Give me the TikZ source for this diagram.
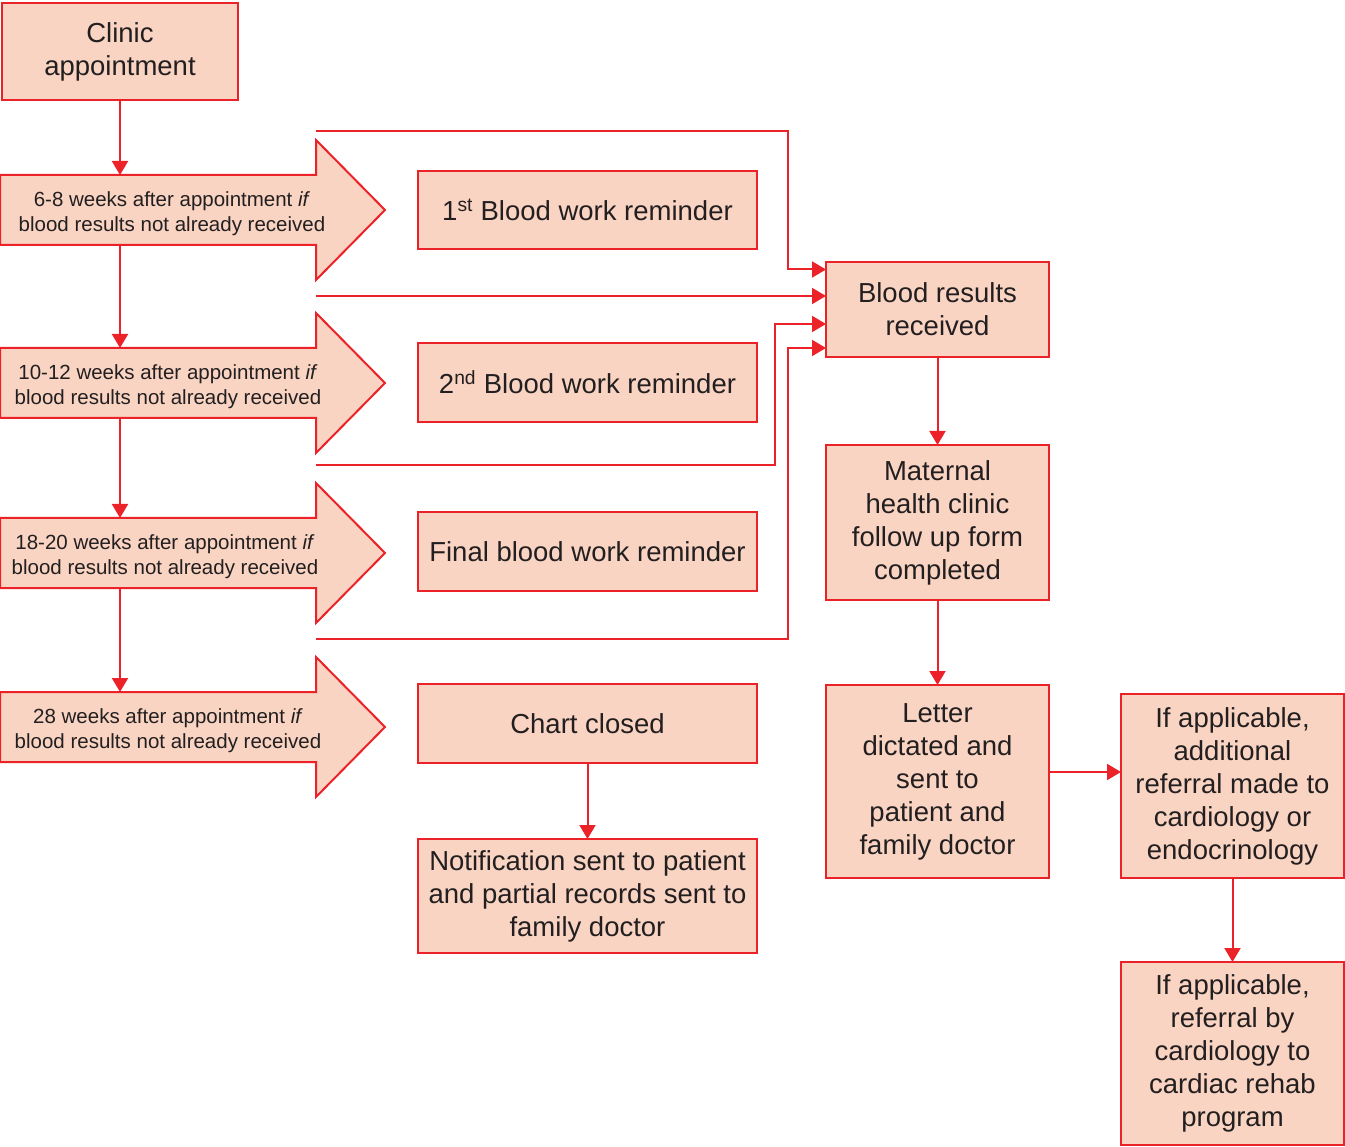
\documentclass[tikz,border=0pt]{standalone}
\usepackage{fontspec}
\setmainfont{Liberation Sans}
\usetikzlibrary{arrows.meta}
\definecolor{peach}{HTML}{F9D4C2}
\definecolor{redline}{HTML}{EC2229}
\definecolor{ink}{HTML}{231F20}
\tikzset{
  box/.style={draw=redline, fill=peach, line width=2pt, inner sep=0pt, outer sep=0pt,
    align=center, text=ink, font=\fontsize{27.5}{33}\selectfont},
  body/.style={minimum width=316pt, minimum height=70pt, inner sep=0pt, outer sep=0pt},
  arrowline/.style={draw=redline, fill=peach, line width=2pt, line join=miter},
  smalltext/.style={align=center, text=ink, inner sep=0pt, font=\fontsize{20.5}{25}\selectfont},
  conn/.style={draw=redline, line width=2pt, -{Triangle[width=16pt,length=14pt]}},
  plain/.style={draw=redline, line width=2pt}
}
\newcommand\bigarrow[2]{%
  \node[body] (#1) at (158,#2) {};
  \draw[arrowline] (#1.north west) -- (#1.north east) -- ++(0,-35) -- ++(69,70)
    -- ++(-69,70) -- ++(0,-35) -- (#1.south west) -- cycle;
}
\begin{document}
\begin{tikzpicture}[x=1pt,y=-1pt]
\useasboundingbox (0,0) rectangle (1345,1147);

% left column
\node[box, minimum width=236pt, minimum height=97pt] (clinic) at (120,51.5) {Clinic\\appointment};

\bigarrow{b1}{210}
\bigarrow{b2}{383}
\bigarrow{b3}{553}
\bigarrow{b4}{727}

\node[smalltext] (t1) at (172,214) {6-8 weeks after appointment \textit{if}\\blood results not already received};
\node[smalltext] (t2) at (168,387) {10-12 weeks after appointment \textit{if}\\blood results not already received};
\node[smalltext] (t3) at (165,557) {18-20 weeks after appointment \textit{if}\\blood results not already received};
\node[smalltext] (t4) at (168,731) {28 weeks after appointment \textit{if}\\blood results not already received};

\draw[conn] (clinic.south) -- (clinic.south |- b1.north);
\draw[conn] (clinic.south |- b1.south) -- (clinic.south |- b2.north);
\draw[conn] (clinic.south |- b2.south) -- (clinic.south |- b3.north);
\draw[conn] (clinic.south |- b3.south) -- (clinic.south |- b4.north);

% reminders
\node[box, minimum width=339pt, minimum height=78pt] (r1) at (587.5,210) {1\textsuperscript{st} Blood work reminder};
\node[box, minimum width=339pt, minimum height=79pt] (r2) at (587.5,382.5) {2\textsuperscript{nd} Blood work reminder};
\node[box, minimum width=339pt, minimum height=79pt] (r3) at (587.5,551.5) {Final blood work reminder};
\node[box, minimum width=339pt, minimum height=79pt] (chart) at (587.5,723.5) {Chart closed};
\node[box, minimum width=339pt, minimum height=114pt] (notif) at (587.5,896) {Notification sent to patient\\and partial records sent to\\family doctor};
\draw[conn] (chart.south) -- (notif.north);

% right column
\node[box, minimum width=223pt, minimum height=95pt] (blood) at (937.5,309.5) {Blood results\\received};
\node[box, minimum width=223pt, minimum height=155pt] (maternal) at (937.5,522.5) {Maternal\\health clinic\\follow up form\\completed};
\node[box, minimum width=223pt, minimum height=193pt] (letter) at (937.5,781.5) {Letter\\dictated and\\sent to\\patient and\\family doctor};
\node[box, minimum width=223pt, minimum height=184pt] (referral) at (1232.5,786) {If applicable,\\additional\\referral made to\\cardiology or\\endocrinology};
\node[box, minimum width=223pt, minimum height=183pt] (cardiac) at (1232.5,1053.5) {If applicable,\\referral by\\cardiology to\\cardiac rehab\\program};

\draw[conn] (blood.south) -- (maternal.north);
\draw[conn] (maternal.south) -- (letter.north);
\draw[conn] (letter.east |- 0,772) -- (referral.west |- 0,772);
\draw[conn] (referral.south) -- (cardiac.north);

% feedback lines into Blood results received
\coordinate (s1) at (316,131);
\coordinate (s2) at (316,296);
\coordinate (s3) at (316,465);
\coordinate (s4) at (316,639);
\coordinate (e1) at ([yshift=40pt]blood.west);
\coordinate (e2) at ([yshift=13.5pt]blood.west);
\coordinate (e3) at ([yshift=-14.5pt]blood.west);
\coordinate (e4) at ([yshift=-38.5pt]blood.west);

\draw[conn] (s1) -| ([xshift=-38pt]e1) -- (e1);
\draw[conn] (s2) -- (e2);
\draw[conn] (s3) -| ([xshift=-51pt]e3) -- (e3);
\draw[conn] (s4) -| ([xshift=-38pt]e4) -- (e4);
\end{tikzpicture}
\end{document}
